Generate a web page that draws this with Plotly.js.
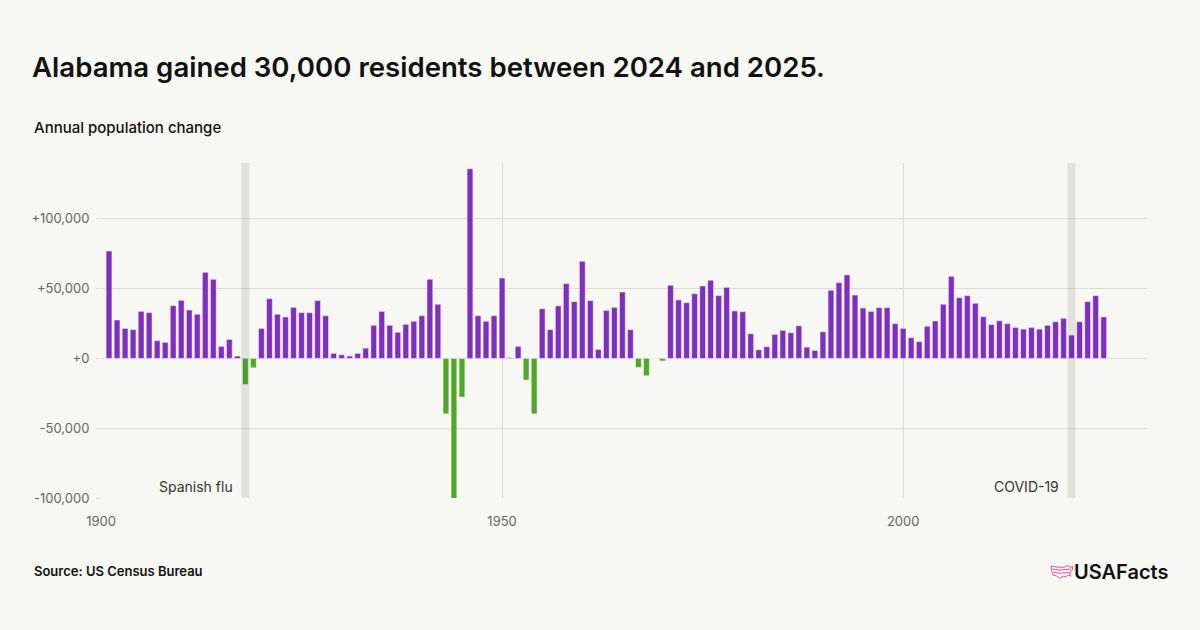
<!DOCTYPE html>
<html>
<head>
<meta charset="utf-8">
<script src="https://cdn.plot.ly/plotly-3.0.1.min.js"></script>
<style>
  html, body { margin: 0; padding: 0; background: #f7f7f3; }
  #chart { width: 1200px; height: 630px; }
</style>
</head>
<body>
<div id="chart"></div>
<script>
// Years 1901..2025
const years = [];
for (let y = 1901; y <= 2025; y++) years.push(y);

// Annual population change
const changes = [
  77000, 27500, 21500, 20600, 33700, 32800, 12700, 11500, 37800, 41600,   // 1901-1910
  34700, 31600, 61700, 56700, 8600, 13600, 1700, -18700, -6700, 21500,    // 1911-1920
  42800, 31600, 29700, 36600, 32800, 32800, 41400, 30600, 3600, 2600,     // 1921-1930
  1700, 3600, 7400, 23700, 33700, 23700, 18700, 24400, 26600, 30600,      // 1931-1940
  56700, 38800, -39700, -101000, -27700, 135900, 30600, 26600, 30600, 57600, // 1941-1950
  500, 8600, -15500, -39700, 35600, 20600, 37600, 53600, 40700, 69600,    // 1951-1960
  41400, 6500, 34400, 36600, 47600, 20600, -6500, -12400, 0, -1800,       // 1961-1970
  52400, 41900, 39900, 46400, 51900, 56000, 45000, 50900, 34000, 33500,   // 1971-1980
  17700, 6200, 8400, 17200, 20100, 18400, 23400, 8100, 5700, 19100,       // 1981-1990
  48800, 54300, 59800, 45400, 36100, 33700, 36400, 36400, 24900, 21500,   // 1991-2000
  14800, 12000, 23000, 26800, 38800, 58800, 43500, 45000, 39500, 29900,   // 2001-2010
  24200, 27000, 24900, 22200, 21000, 22200, 21000, 23700, 26300, 28700,   // 2011-2020
  16700, 26300, 40700, 45000, 29700                                       // 2021-2025
];

const yTickVals = [-100000, -50000, 0, 50000, 100000];
const yTickText = ["-100,000", "-50,000", "+0", "+50,000", "+100,000"];
const xTickVals = [1900, 1950, 2000];
const xTickText = ["1900", "1950", "2000"];

const eventNames = ["Spanish flu", "COVID-19"];
const eventYears = [1918, 2021];

const POS = "#7f2ec0", NEG = "#4fa82a";
const colors = changes.map(v => v < 0 ? NEG : POS);

const trace = {
  type: "bar",
  x: years,
  y: changes,
  width: 0.72,
  marker: { color: colors, line: { color: "rgba(255,255,255,0.45)", width: 1 } },
  hoverinfo: "x+y"
};

const shapes = eventYears.map(y => ({
  type: "rect", xref: "x", yref: "paper",
  x0: y - 0.5, x1: y + 0.5, y0: 0, y1: 1,
  fillcolor: "rgba(60,60,40,0.11)", line: { width: 0 }, layer: "above"
}));

const annotations = eventYears.map((y, i) => ({
  x: y - 1.3, y: 0.035, xref: "x", yref: "paper",
  text: eventNames[i], showarrow: false, xanchor: "right", yanchor: "middle",
  font: { family: "Inter, 'Noto Sans', sans-serif", size: 14, color: "#333" }
}));

annotations.push({
  xref: "paper", yref: "paper", x: -0.066, y: (498 - 127) / 335, xanchor: "left", yanchor: "middle",
  text: "Annual population change", showarrow: false,
  font: { family: "Inter, sans-serif", size: 15, color: "#111", weight: 500 }
});
annotations.push({
  xref: "paper", yref: "paper", x: -0.066, y: -(571 - 498) / 335, xanchor: "left", yanchor: "middle",
  text: "Source: US Census Bureau", showarrow: false,
  font: { family: "Inter, sans-serif", size: 13, color: "#111", weight: 600 }
});
annotations.push({
  xref: "paper", yref: "paper", x: (1170 - 101) / 1046, y: -(572 - 498) / 335, xanchor: "right", yanchor: "middle",
  text: "USAFacts", showarrow: false,
  font: { family: "Inter, sans-serif", size: 20, color: "#111", weight: 600 }
});

const logoSvg = '<svg xmlns="http://www.w3.org/2000/svg" width="40" height="30" viewBox="0 0 40 30">' +
  '<g fill="none" stroke="#e8489a" stroke-width="1.6" stroke-linejoin="round">' +
  '<path d="M2 5 L12 7 L24 7 L30 4 L34 7 L38 6 L37 12 L33 15 L34 22 L31 20 L26 23 L22 22 L16 26 L12 22 L5 20 L3 14 Z"/>' +
  '<path d="M4 10 L14 12 L26 11 L35 10"/>' +
  '<path d="M5 15 L15 17 L27 16 L33 16"/>' +
  '</g></svg>';

const layout = {
  width: 1200, height: 630,
  paper_bgcolor: "#f7f7f3", plot_bgcolor: "#f7f7f3",
  margin: { l: 101, r: 53, t: 163, b: 132 },
  showlegend: false,
  bargap: 0,
  title: {
    text: "Alabama gained 30,000 residents between 2024 and 2025.",
    xref: "container", yref: "container", x: 32 / 1200, xanchor: "left",
    y: 1 - 67 / 630, yanchor: "middle",
    font: { family: "Inter, sans-serif", size: 27.6, color: "#111", weight: 600 }
  },
  xaxis: {
    range: [1900, 2030.4],
    tickvals: xTickVals, ticktext: xTickText,
    showgrid: true, gridcolor: "#dcdcd7", gridwidth: 1,
    zeroline: false, showline: false,
    ticks: "outside", ticklen: 11, tickcolor: "rgba(0,0,0,0)",
    tickfont: { family: "Inter, sans-serif", size: 13, color: "#666" },
    fixedrange: true
  },
  yaxis: {
    range: [-100000, 140000],
    tickvals: yTickVals, ticktext: yTickText,
    showgrid: true, gridcolor: "#dcdcd7", gridwidth: 1,
    zeroline: false, showline: false,
    ticks: "outside", ticklen: 4, tickcolor: "#dcdcd7",
    ticklabelstandoff: 4,
    tickfont: { family: "Inter, sans-serif", size: 13, color: "#666" },
    fixedrange: true
  },
  shapes: shapes,
  annotations: annotations,
  images: [{
    source: "data:image/svg+xml;base64," + btoa(logoSvg),
    xref: "paper", yref: "paper",
    x: (1050 - 101) / 1046, y: -(563 - 498) / 335,
    sizex: 24 / 1046, sizey: 18 / 335,
    xanchor: "left", yanchor: "top", sizing: "stretch", layer: "above"
  }]
};

Plotly.newPlot("chart", [trace], layout, { displayModeBar: false, staticPlot: true });
</script>
</body>
</html>
